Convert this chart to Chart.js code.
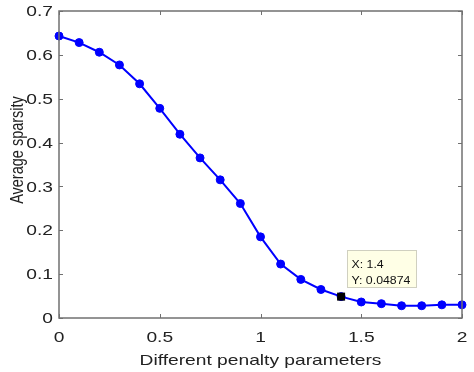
<!DOCTYPE html>
<html>
<head>
<meta charset="utf-8">
<script src="https://cdn.jsdelivr.net/npm/chart.js@4/dist/chart.umd.min.js"></script>
<style>
html,body{margin:0;padding:0;background:#fff;}
canvas{display:block;}
</style>
</head>
<body>
<canvas id="c" width="474" height="372"></canvas>
<script>
// ---- data ----
const penalty = [0,0.1,0.2,0.3,0.4,0.5,0.6,0.7,0.8,0.9,1.0,1.1,1.2,1.3,1.4,1.5,1.6,1.7,1.8,1.9,2.0];
const sparsity = [0.643,0.628,0.606,0.577,0.534,0.478,0.419,0.365,0.315,0.261,0.185,0.123,0.088,0.065,0.04874,0.0365,0.0327,0.028,0.028,0.030,0.030];
const xTicks = [0,0.5,1,1.5,2];
const yTicks = [0,0.1,0.2,0.3,0.4,0.5,0.6,0.7];
const tipX = 1.4;
const tipLabelX = 'X: 1.4';
const tipLabelY = 'Y: 0.04874';
const xTitle = 'Different penalty parameters';
const yTitle = 'Average sparsity';

const FONT = '"Liberation Sans", Arial, sans-serif';
const SX = 1.28; // horizontal stretch of the reference picture's text
const tipIndex = penalty.indexOf(tipX);

function txt(ctx, s, x, y, align, base, size, sx) {
  ctx.save();
  ctx.translate(x, y);
  ctx.scale(sx, 1);
  ctx.font = size + 'px ' + FONT;
  ctx.textAlign = align;
  ctx.textBaseline = base;
  ctx.fillText(s, 0, 0);
  ctx.restore();
}

const decor = {
  id: 'decor',
  afterDraw(chart) {
    const ctx = chart.ctx;
    const a = chart.chartArea;
    const xs = chart.scales.x, ys = chart.scales.y;
    ctx.save();
    // box
    ctx.strokeStyle = '#707070';
    ctx.lineWidth = 1.5;
    ctx.strokeRect(a.left, a.top, a.right - a.left, a.bottom - a.top);
    // ticks inward
    ctx.lineWidth = 1;
    ctx.beginPath();
    const tl = 4;
    xs.ticks.forEach(t => {
      const px = Math.round(xs.getPixelForValue(t.value)) + 0.5;
      ctx.moveTo(px, a.bottom); ctx.lineTo(px, a.bottom - tl);
      ctx.moveTo(px, a.top); ctx.lineTo(px, a.top + tl);
    });
    ys.ticks.forEach(t => {
      const py = Math.round(ys.getPixelForValue(t.value)) + 0.5;
      ctx.moveTo(a.left, py); ctx.lineTo(a.left + tl, py);
      ctx.moveTo(a.right, py); ctx.lineTo(a.right - tl, py);
    });
    ctx.stroke();
    // tick labels
    ctx.fillStyle = '#222';
    xs.ticks.forEach(t => {
      txt(ctx, String(t.value), xs.getPixelForValue(t.value), 338, 'center', 'middle', 15, SX);
    });
    ys.ticks.forEach(t => {
      txt(ctx, String(t.value), a.left - 6, ys.getPixelForValue(t.value) + 1, 'right', 'middle', 15, SX);
    });
    // titles
    txt(ctx, xTitle, (a.left + a.right) / 2, 361, 'center', 'middle', 15, SX);
    ctx.save();
    ctx.translate(18, 150);
    ctx.scale(SX, 1);
    ctx.rotate(-Math.PI / 2);
    ctx.font = '14.5px ' + FONT;
    ctx.textAlign = 'center';
    ctx.textBaseline = 'middle';
    ctx.fillText(yTitle, 0, 0);
    ctx.restore();
    // datatip
    if (tipIndex >= 0) {
      const px = xs.getPixelForValue(penalty[tipIndex]);
      const py = ys.getPixelForValue(sparsity[tipIndex]);
      const bx = Math.round(px + 6) + 0.5, by = Math.round(py - 47) + 0.5;
      const bw = 69, bh = 37;
      ctx.fillStyle = '#ffffe6';
      ctx.strokeStyle = '#d0d0c0';
      ctx.lineWidth = 1;
      ctx.fillRect(bx, by, bw, bh);
      ctx.strokeRect(bx, by, bw, bh);
      ctx.fillStyle = '#111';
      txt(ctx, tipLabelX, bx + 4, by + 17, 'left', 'alphabetic', 11.5, 1.07);
      txt(ctx, tipLabelY, bx + 4, by + 33, 'left', 'alphabetic', 11.5, 1.07);
      // black marker
      ctx.fillStyle = '#000';
      ctx.fillRect(px - 4, py - 4, 8, 8);
    }
    ctx.restore();
  }
};

new Chart(document.getElementById('c'), {
  type: 'line',
  data: {
    datasets: [{
      data: penalty.map((x, i) => ({x: x, y: sparsity[i]})),
      borderColor: '#0000ff',
      borderWidth: 2,
      backgroundColor: '#0000ff',
      pointBackgroundColor: '#0000ff',
      pointBorderColor: '#0000ff',
      pointRadius: 4,
      pointBorderWidth: 1,
      pointHoverRadius: 4,
      tension: 0,
      clip: false
    }]
  },
  options: {
    responsive: false,
    animation: false,
    events: [],
    layout: {padding: {left: 0, top: 11, right: 12, bottom: 0}},
    plugins: {legend: {display: false}, tooltip: {enabled: false}},
    scales: {
      x: {
        type: 'linear', min: 0, max: 2,
        afterFit(s) { s.height = 54; s.paddingLeft = 0; s.paddingRight = 0; },
        afterBuildTicks(s) { s.ticks = xTicks.map(v => ({value: v})); },
        grid: {display: false, drawTicks: false},
        border: {display: false},
        ticks: {display: false}
      },
      y: {
        min: 0, max: 0.7,
        afterFit(s) { s.width = 59; s.paddingTop = 0; s.paddingBottom = 0; },
        afterBuildTicks(s) { s.ticks = yTicks.map(v => ({value: v})); },
        grid: {display: false, drawTicks: false},
        border: {display: false},
        ticks: {display: false}
      }
    }
  },
  plugins: [decor]
});
</script>
</body>
</html>
